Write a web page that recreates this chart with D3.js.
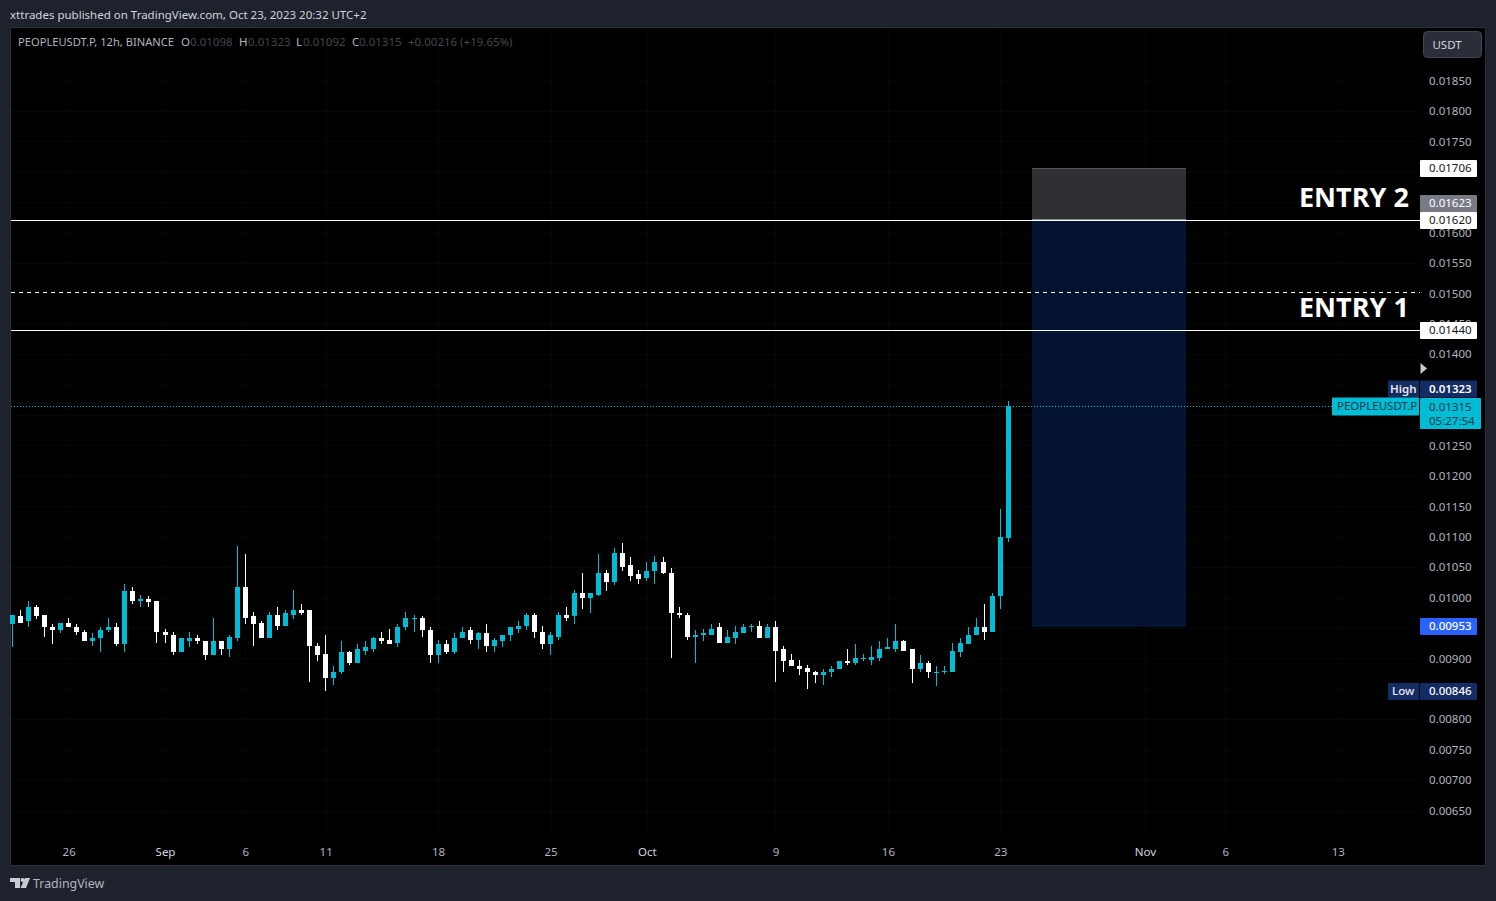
<!DOCTYPE html>
<html><head><meta charset="utf-8">
<style>
html,body{margin:0;padding:0;background:#1e222d;overflow:hidden}
svg{display:block}
text{font-family:"Noto Sans",sans-serif}
</style>
<script src="https://cdn.jsdelivr.net/npm/d3@7/dist/d3.min.js"></script>
</head><body><svg id="c" width="1496" height="901"></svg>
<script>
// Prices in units of 0.00001 USDT, one entry per 12h candle starting 2023-08-22 12:00 UTC
const PRICE_UNIT = 1e-5;
const opens = [957,969,961,985,971,952,946,959,952,943,929,933,946,951,923,1010,995,997,995,944,939,910,929,933,929,905,928,916,934,1018,969,959,934,972,954,972,980,979,921,908,868,877,911,893,913,916,934,931,926,951,966,967,947,906,924,911,933,946,931,941,920,929,938,949,954,972,944,923,936,972,969,1008,1000,1005,1041,1026,1074,1054,1038,1033,1043,1059,1041,975,972,936,938,938,951,926,934,941,951,954,933,951,915,898,888,885,878,873,878,882,895,892,900,898,901,915,916,929,916,883,893,877,877,878,910,924,938,951,943,1002,1098];
const highs = [972,979,995,987,971,957,959,967,957,947,941,951,966,959,1023,1017,1005,1002,995,949,944,934,944,939,929,966,929,939,1084,1071,977,962,977,985,979,1013,990,979,926,938,888,929,913,923,929,936,944,949,957,977,972,969,952,931,931,941,951,952,944,956,934,939,952,962,974,974,954,944,977,985,1012,1041,1008,1072,1046,1082,1089,1066,1046,1059,1069,1066,1049,985,974,947,949,957,959,946,954,956,957,961,956,962,921,908,898,890,880,882,887,896,915,924,908,920,929,934,957,931,916,906,895,888,888,926,933,952,966,990,1007,1146,1323];
const lows = [918,959,952,964,936,924,941,951,938,928,921,911,943,920,911,990,984,985,926,926,905,910,918,924,898,905,906,903,928,957,921,934,933,947,954,964,972,862,895,847,857,875,890,892,906,910,924,924,918,947,944,936,893,892,908,908,933,924,915,911,911,918,928,941,947,933,915,906,931,961,957,982,974,1003,1010,1021,1043,1028,1023,1028,1023,1038,901,967,931,893,929,938,926,926,923,941,944,933,933,862,878,887,872,850,860,857,870,882,890,890,895,890,895,915,911,913,860,878,867,855,875,878,903,924,938,931,943,982,1092];
const closes = [971,959,985,969,951,946,959,951,943,928,933,947,952,923,1010,995,997,992,943,938,910,933,933,928,905,928,916,936,1018,967,957,934,972,954,975,980,975,920,906,868,877,911,893,915,918,934,929,924,952,967,967,947,906,924,911,934,944,931,941,920,931,939,951,954,972,943,923,938,972,967,1008,1000,1007,1041,1025,1074,1051,1036,1031,1043,1059,1040,974,971,936,939,941,949,926,936,944,952,954,934,951,913,896,887,883,877,873,878,883,895,892,900,901,903,916,918,928,913,883,893,877,878,880,913,926,939,951,943,1003,1100,1315];

const firstCandle = Date.UTC(2023,7,22,12), lastCandle = Date.UTC(2023,9,23,12), candleStep = 12*3600*1000;
const gridPrices = [0.0185,0.018,0.0175,0.017,0.0165,0.016,0.0155,0.015,0.0145,0.014,0.0135,0.013,0.0125,0.012,0.0115,0.011,0.0105,0.01,0.0095,0.009,0.0085,0.008,0.0075,0.007,0.0065];
const priceTicks = [0.0185,0.018,0.0175,0.016,0.0155,0.015,0.0145,0.014,0.0135,0.0125,0.012,0.0115,0.011,0.0105,0.01,0.009,0.008,0.0075,0.007,0.0065];
const timeTicks = [[2023,7,26,"26"],[2023,8,1,"Sep"],[2023,8,6,"6"],[2023,8,11,"11"],[2023,8,18,"18"],[2023,8,25,"25"],[2023,9,1,"Oct"],[2023,9,9,"9"],[2023,9,16,"16"],[2023,9,23,"23"],[2023,10,1,"Nov"],[2023,10,6,"6"],[2023,10,13,"13"]];
const hLevels = [0.0162,0.0144];
const dashedLevel = 0.015;
const zoneTop = 0.01706, zoneEntry = 0.0162, zoneBottom = 0.00953;
const lastPrice = 0.01315;
const legendParts = [["O","0.01098"],["H","0.01323"],["L","0.01092"],["C","0.01315"]];

const FS = 11.5;
const plot = {l:11, r:1485, t:28, b:865, axisX:1420};
const x = d3.scaleUtc().domain([firstCandle,lastCandle]).range([12.4,1008.4]);
const y = d3.scaleLinear().domain([0.0185,0.0065]).range([80.5,810.5]);
const Y = p => Math.round(y(p));
const UP="#00bcd4", DOWN="#ffffff", TXT="#b2b5be";
const svg = d3.select("#c");

svg.append("rect").attr("width",1496).attr("height",901).attr("fill","#1e222d");
svg.append("rect").attr("x",plot.l-1).attr("y",plot.t-1).attr("width",plot.r-plot.l+2).attr("height",plot.b-plot.t+2).attr("fill","#2a2e39");
svg.append("rect").attr("x",plot.l).attr("y",plot.t).attr("width",plot.r-plot.l).attr("height",plot.b-plot.t).attr("fill","#000");
svg.append("defs").append("clipPath").attr("id","pc").append("rect").attr("x",plot.l-1).attr("y",plot.t).attr("width",plot.axisX-plot.l+1).attr("height",plot.b-plot.t-30);

// grid
const grid = svg.append("g").attr("stroke","#060708").attr("shape-rendering","crispEdges");
gridPrices.forEach(p=>grid.append("line").attr("x1",plot.l).attr("x2",plot.axisX).attr("y1",Y(p)+.5).attr("y2",Y(p)+.5));
timeTicks.forEach(t=>{const v=Math.round(x(Date.UTC(t[0],t[1],t[2])))+.5;grid.append("line").attr("x1",v).attr("x2",v).attr("y1",plot.t).attr("y2",835);});

// zone
const zoneX0=Math.round(x(lastCandle))+24, zoneX1=zoneX0+154;
svg.append("rect").attr("x",zoneX0).attr("y",Y(zoneEntry)).attr("width",zoneX1-zoneX0).attr("height",Y(zoneBottom)-Y(zoneEntry)+1).attr("fill","#051333");
svg.append("rect").attr("x",zoneX0).attr("y",Y(zoneTop)).attr("width",zoneX1-zoneX0).attr("height",Y(zoneEntry)-Y(zoneTop)).attr("fill","#2f3033");
svg.append("rect").attr("x",zoneX0).attr("y",Y(zoneTop)).attr("width",zoneX1-zoneX0).attr("height",1).attr("fill","#55565a");
svg.append("rect").attr("x",zoneX0).attr("y",Y(zoneEntry)-1).attr("width",zoneX1-zoneX0).attr("height",1).attr("fill","#8a8b8e");

// level lines
hLevels.forEach(p=>svg.append("rect").attr("x",plot.l).attr("y",Y(p)).attr("width",plot.axisX-plot.l).attr("height",1).attr("fill","#fff"));
svg.append("line").attr("x1",plot.l).attr("x2",plot.axisX).attr("y1",Y(dashedLevel)-.5).attr("y2",Y(dashedLevel)-.5).attr("stroke","#fff").attr("stroke-dasharray","4 4").attr("shape-rendering","crispEdges");
svg.append("line").attr("x1",plot.l).attr("x2",1332).attr("y1",Y(lastPrice)+.5).attr("y2",Y(lastPrice)+.5).attr("stroke",UP).attr("stroke-dasharray","1 2").attr("shape-rendering","crispEdges");

// candles
const gc = svg.append("g").attr("clip-path","url(#pc)").attr("shape-rendering","crispEdges");
opens.forEach((o,i)=>{
  const c=closes[i], col=c>=o?UP:DOWN, cx=Math.floor(x(firstCandle+i*candleStep));
  const hi=Y(highs[i]*PRICE_UNIT), lo=Y(lows[i]*PRICE_UNIT), a=Y(Math.max(o,c)*PRICE_UNIT), b=Y(Math.min(o,c)*PRICE_UNIT);
  gc.append("rect").attr("x",cx).attr("y",hi).attr("width",1).attr("height",Math.max(1,lo-hi)).attr("fill",col);
  gc.append("rect").attr("x",cx-2).attr("y",a).attr("width",5).attr("height",Math.max(1,b-a)).attr("fill",col);
});

// axes
const fmt=d3.format(".5f");
const ya=svg.append("g").attr("transform","translate(1429,0)").call(d3.axisRight(y).tickValues(priceTicks).tickFormat(fmt).tickSize(0).tickPadding(0));
ya.select(".domain").remove();
ya.selectAll("text").attr("fill",TXT).attr("font-size",FS).style("font-family",'"Noto Sans",sans-serif').attr("dy","0.32em");
const xa=svg.append("g").attr("transform","translate(0,848)").call(d3.axisBottom(x).tickValues(timeTicks.map(t=>Date.UTC(t[0],t[1],t[2]))).tickFormat((d,i)=>timeTicks[i][3]).tickSize(0).tickPadding(0));
xa.select(".domain").remove();
xa.selectAll("text").attr("fill",(d,i)=>isNaN(+timeTicks[i][3])?"#d1d4dc":TXT).attr("font-size",FS).style("font-family",'"Noto Sans",sans-serif').attr("dy","0.71em");

// price tags
function tag(x0,w,yc,h,bg,txt,col,tx,weight){
  svg.append("rect").attr("x",x0).attr("y",yc-h/2).attr("width",w).attr("height",h).attr("rx",1).attr("fill",bg);
  svg.append("text").attr("x",tx).attr("y",yc+3.5).attr("fill",col).attr("font-size",FS).attr("font-weight",weight||400).text(txt);
}
tag(1420,57,168.5,17,"#fff","0.01706","#131722",1429);
tag(1420,57,203.5,17,"#787b86","0.01623","#fff",1429);
tag(1420,57,220.5,17,"#fff","0.01620","#131722",1429);
tag(1420,57,330.5,17,"#fff","0.01440","#131722",1429);
tag(1420,57,626.5,17,"#2962ff","0.00953","#fff",1429,500);
tag(1388,31,389,17,"#132c63","High","#e8e9ee",1390,600);
tag(1420,57,389,17,"#132c63","0.01323","#fff",1429,600);
tag(1388,31,691.5,17,"#132c63","Low","#e8e9ee",1392,500);
tag(1420,57,691.5,17,"#132c63","0.00846","#fff",1429,500);
tag(1332,87,406.5,18,UP,"PEOPLEUSDT.P","#0b3a46",1337);
svg.append("rect").attr("x",1420).attr("y",398).attr("width",61).attr("height",31).attr("rx",1).attr("fill",UP);
svg.append("text").attr("x",1429).attr("y",410.5).attr("fill","#0b3a46").attr("font-size",FS).text("0.01315");
svg.append("text").attr("x",1429).attr("y",425).attr("fill","#0b3a46").attr("font-size",FS).text("05:27:54");
svg.append("path").attr("d","M1420.5 363 L1427 368.5 L1420.5 374 Z").attr("fill","#c8cad0");

// annotations
[["ENTRY 2",207],["ENTRY 1",317]].forEach(d=>svg.append("text").attr("x",1299).attr("y",d[1]).attr("fill","#fff").attr("font-size",27).attr("font-weight",700).style("font-family",'"Open Sans",sans-serif').text(d[0]));

// header
svg.append("text").attr("x",10).attr("y",19).attr("fill","#d1d4dc").attr("font-size",FS).text("xttrades published on TradingView.com, Oct 23, 2023 20:32 UTC+2");
svg.append("text").attr("x",18).attr("y",46).attr("fill",TXT).attr("font-size",11.15).text("PEOPLEUSDT.P, 12h, BINANCE");
const legendX=[181,239,296,352];
legendParts.forEach((d,i)=>{
  svg.append("text").attr("x",legendX[i]).attr("y",46).attr("fill",TXT).attr("font-size",FS).text(d[0]);
  svg.append("text").attr("x",legendX[i]+(d[0]==="L"||d[0]==="C"?7:9)).attr("y",46).attr("fill","#45474c").attr("font-size",FS).text(d[1]);
});
svg.append("text").attr("x",408).attr("y",46).attr("fill","#45474c").attr("font-size",FS).text("+0.00216 (+19.65%)");

// USDT button
svg.append("rect").attr("x",1423.5).attr("y",31.5).attr("width",58).attr("height",26).attr("rx",4).attr("fill","#2a2e39").attr("stroke","#434651");
svg.append("text").attr("x",1447).attr("y",48.5).attr("text-anchor","middle").attr("fill","#d1d4dc").attr("font-size",FS).text("USDT");

// footer logo
svg.append("path").attr("fill","#c9cbd1").attr("d","M10 878 H20 V888 H15 V882 H10 Z M22.5 882 a2 2 0 1 1 0.01 0 Z M25 878 H30 L26 888 H20.5 Z");
svg.append("text").attr("x",33).attr("y",888).attr("fill",TXT).attr("font-size",12.4).text("TradingView");
</script></body></html>
